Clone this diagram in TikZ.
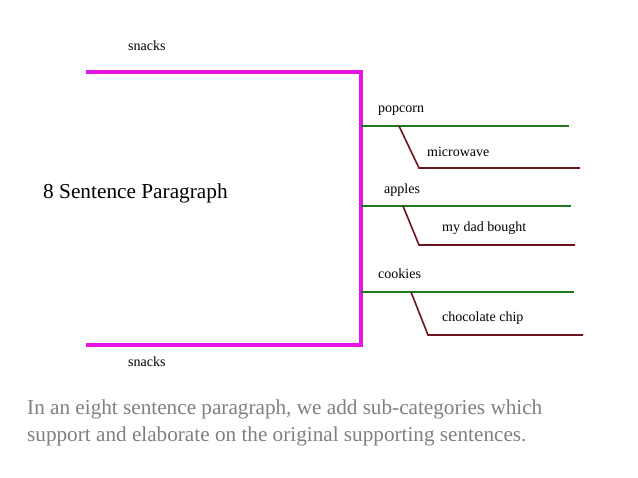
\documentclass[tikz,border=0pt]{standalone}
\usepackage{fontspec}
\setmainfont{Liberation Serif}
\definecolor{mag}{RGB}{230,20,230}
\definecolor{grn}{RGB}{30,120,30}
\definecolor{mar}{RGB}{110,20,30}
\definecolor{gtext}{RGB}{128,128,128}
\begin{document}
\begin{tikzpicture}[x=1pt,y=-1pt,
  lbl/.style={inner sep=0pt,anchor=mid west,font=\fontsize{14}{16}\selectfont},
  magline/.style={draw=mag,line width=4pt},
  grnline/.style={draw=grn,line width=2.7pt},
  marline/.style={draw=mar,line width=1.6pt}]
\useasboundingbox[fill=white] (0,0) rectangle (638,478);
% main frame
\coordinate (tl) at (86,72);
\coordinate (tr) at (361,72);
\coordinate (br) at (361,345);
\coordinate (bl) at (86,345);
\draw[magline] (tl) -- (tr) -- (br) -- (bl);
% branches
\coordinate (g1a) at (361,126); \coordinate (g1b) at (569,126);
\coordinate (g2a) at (361,206); \coordinate (g2b) at (571,206);
\coordinate (g3a) at (361,292); \coordinate (g3b) at (574,292);
\draw[grnline] (g1a) -- (g1b);
\draw[grnline] (g2a) -- (g2b);
\draw[grnline] (g3a) -- (g3b);
\coordinate (m1a) at (399,126); \coordinate (m1b) at (419,168); \coordinate (m1c) at (580,168);
\coordinate (m2a) at (403,206); \coordinate (m2b) at (419,245); \coordinate (m2c) at (575,245);
\coordinate (m3a) at (411,292); \coordinate (m3b) at (428,335); \coordinate (m3c) at (583,335);
\draw[marline] (m1a) -- (m1b) -- (m1c);
\draw[marline] (m2a) -- (m2b) -- (m2c);
\draw[marline] (m3a) -- (m3b) -- (m3c);
% labels
\node[lbl] (s1) at (128,48) {snacks};
\node[lbl] (s2) at (128,364) {snacks};
\node[lbl] (p) at (378,110) {popcorn};
\node[lbl] (mw) at (427,154) {microwave};
\node[lbl] (ap) at (384,191) {apples};
\node[lbl] (dad) at (442,229) {my dad bought};
\node[lbl] (ck) at (378,276) {cookies};
\node[lbl] (cc) at (442,319) {chocolate chip};
\node[lbl,font=\fontsize{21.3}{24}\selectfont] (title) at (43,196) {8 Sentence Paragraph};
\node[inner sep=0pt,anchor=north west,align=left,text=gtext,font=\fontsize{21.2}{27}\selectfont] (cap) at (27,400)
  {In an eight sentence paragraph, we add sub-categories which\\support and elaborate on the original supporting sentences.};
\end{tikzpicture}
\end{document}
